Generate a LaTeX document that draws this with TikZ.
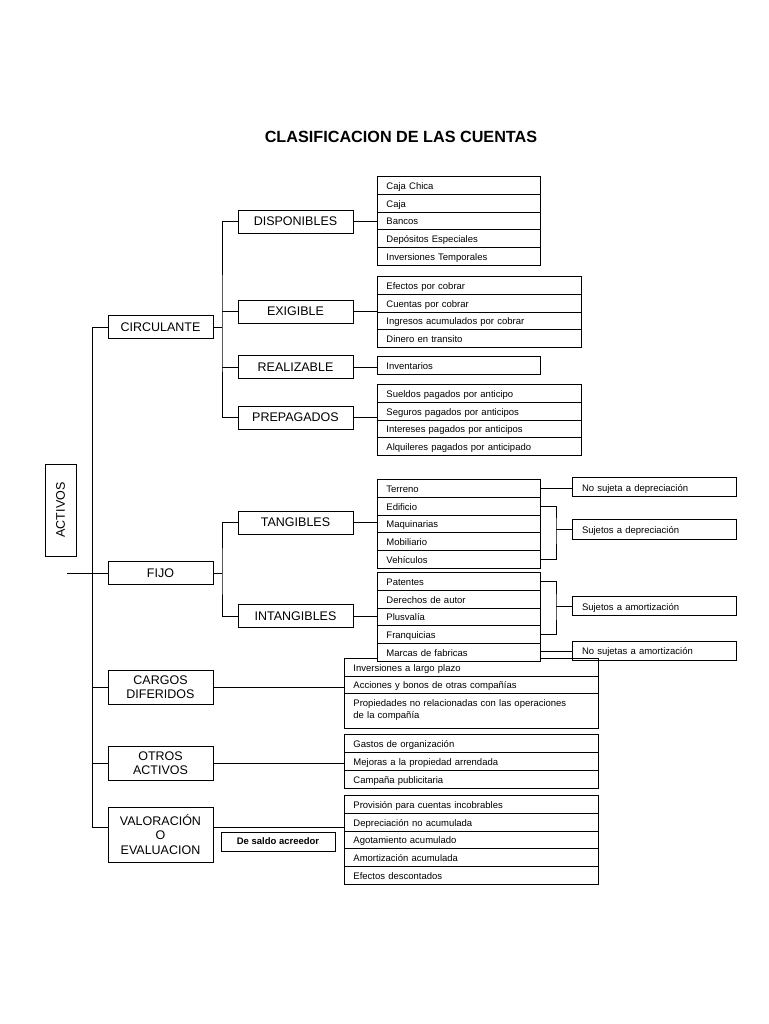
\documentclass[tikz,border=0pt]{standalone}
\usepackage{fontspec}
\setmainfont{Liberation Sans}
\usepackage{tikz}

\tikzset{
    lvlbox/.style={draw, line width=.9pt, inner sep=0pt, align=center,
        font=\fontsize{12.5}{14.5}\selectfont},
    rowbox/.style={draw, fill=white, line width=.9pt, anchor=north west,
        inner xsep=9pt, inner ysep=0pt, text height=8.5pt, text depth=.5pt,
        minimum height=17.8pt, align=left, font=\fontsize{9.5}{11.5}\selectfont},
    notebox/.style={draw, line width=.9pt, inner xsep=10pt, inner ysep=0pt,
        text height=8.5pt, text depth=.5pt, minimum height=19pt,
        text width=144pt, align=left, font=\fontsize{9.5}{11.5}\selectfont},
    link/.style={line width=.8pt}
}

\begin{document}
\begin{tikzpicture}[x=1pt, y=-1pt]
    \path[use as bounding box, fill=white] (0,0) rectangle (768,1024);

    \node (title) at (401,137) {\bfseries\fontsize{16.2}{19}\selectfont CLASIFICACION DE LAS CUENTAS};

    % first level
    \node[lvlbox, rotate=90, minimum width=92pt, minimum height=31pt] (act) at (60.5,510) {ACTIVOS};
    \node[lvlbox, minimum width=105pt, minimum height=23pt] (circ) at (160.5,327) {CIRCULANTE};
    \node[lvlbox, minimum width=105pt, minimum height=23pt] (fijo) at (160.5,573) {FIJO};
    \node[lvlbox, minimum width=105pt, minimum height=34pt] (carg) at (160.5,687) {CARGOS\\DIFERIDOS};
    \node[lvlbox, minimum width=105pt, minimum height=34pt] (otro) at (160.5,763) {OTROS\\ACTIVOS};
    \node[lvlbox, minimum width=105pt, minimum height=55pt] (valo) at (160.5,834.5) {VALORACIÓN\\O\\EVALUACION};
    \node[draw, line width=.9pt, minimum width=114pt, minimum height=19pt, inner sep=0pt,
        font=\bfseries\fontsize{9.5}{11.5}\selectfont] (acre) at (278,841.5) {De saldo acreedor};

    % second level
    \node[lvlbox, minimum width=115pt, minimum height=23pt] (disp) at (295.5,221.5) {DISPONIBLES};
    \node[lvlbox, minimum width=115pt, minimum height=23pt] (exig) at (295.5,311.5) {EXIGIBLE};
    \node[lvlbox, minimum width=115pt, minimum height=23pt] (real) at (295.5,367) {REALIZABLE};
    \node[lvlbox, minimum width=115pt, minimum height=23pt] (prep) at (295.5,417.5) {PREPAGADOS};
    \node[lvlbox, minimum width=115pt, minimum height=23pt] (tang) at (295.5,522.5) {TANGIBLES};
    \node[lvlbox, minimum width=115pt, minimum height=23pt] (inta) at (295.5,616) {INTANGIBLES};

    % accounts
    \foreach \t [count=\i] in {Caja Chica, Caja, Bancos, Depósitos Especiales, Inversiones Temporales}
        \node[rowbox, text width=145pt] (d\i) at (377,{176+17.8*(\i-1)}) {\t};
    \foreach \t [count=\i] in {Efectos por cobrar, Cuentas por cobrar, Ingresos acumulados por cobrar, Dinero en transito}
        \node[rowbox, text width=186pt] (e\i) at (377,{276+17.8*(\i-1)}) {\t};
    \node[rowbox, text width=145pt] (r1) at (377,356) {Inventarios};
    \foreach \t [count=\i] in {Sueldos pagados por anticipo, Seguros pagados por anticipos, Intereses pagados por anticipos, Alquileres pagados por anticipado}
        \node[rowbox, text width=186pt] (p\i) at (377,{384+17.8*(\i-1)}) {\t};
    \foreach \t [count=\i] in {Terreno, Edificio, Maquinarias, Mobiliario, Vehículos}
        \node[rowbox, text width=145pt] (t\i) at (377,{479+17.8*(\i-1)}) {\t};

    \node[rowbox, text width=236pt, minimum height=17.5pt] (c1) at (344,658) {Inversiones a largo plazo};
    \node[rowbox, text width=236pt, minimum height=17.5pt] (c2) at (344,675.5) {Acciones y bonos de otras compañías};
    \node[rowbox, text width=236pt, minimum height=35pt, text height=6pt, text depth=14pt] (c3) at (344,693) {Propiedades no relacionadas con las operaciones\\de la compañía};

    \foreach \t [count=\i] in {Patentes, Derechos de autor, Plusvalía, Franquicias, Marcas de fabricas}
        \node[rowbox, text width=145pt] (i\i) at (377,{572+17.8*(\i-1)}) {\t};
    \foreach \t [count=\i] in {Gastos de organización, Mejoras a la propiedad arrendada, Campaña publicitaria}
        \node[rowbox, text width=236pt] (o\i) at (344,{734+18*(\i-1)}) {\t};
    \foreach \t [count=\i] in {Provisión para cuentas incobrables, Depreciación no acumulada, Agotamiento acumulado, Amortización acumulada, Efectos descontados}
        \node[rowbox, text width=236pt] (v\i) at (344,{795+17.8*(\i-1)}) {\t};

    % notes
    \node[notebox] (nsd) at (654,487) {No sujeta a depreciación};
    \node[notebox, minimum height=20pt] (sdep) at (654,529.5) {Sujetos a depreciación};
    \node[notebox] (samo) at (654,606) {Sujetos a amortización};
    \node[notebox] (nsa) at (654,650.5) {No sujetas a amortización};

    % spines
    \coordinate (sp) at (92,827);
    \coordinate (fin) at (67,573);
    \coordinate (cs) at (222,327);
    \coordinate (fs) at (222,573);
    \coordinate (tb) at (556,529);
    \coordinate (ib) at (556,606);

    \draw[link] (circ.west) -| (sp) -- (sp -| valo.west);
    \draw[link] (fin) -- (fijo.west);
    \draw[link] (carg.west) -- (carg.west -| sp);
    \draw[link] (otro.west) -- (otro.west -| sp);

    \draw[link] (disp.west) -| (cs) |- (prep.west);
    \draw[link] (circ.east) -- (cs);
    \draw[link] (exig.west) -- (exig.west -| cs);
    \draw[link] (real.west) -- (real.west -| cs);
    \draw[link] (tang.west) -| (fs) |- (inta.west);
    \draw[link] (fijo.east) -- (fs);

    \draw[link] (disp.east) -- (disp.east -| d1.west);
    \draw[link] (exig.east) -- (exig.east -| e1.west);
    \draw[link] (real.east) -- (real.east -| r1.west);
    \draw[link] (prep.east) -- (prep.east -| p1.west);
    \draw[link] (tang.east) -- (tang.east -| t1.west);
    \draw[link] (inta.east) -- (inta.east -| i1.west);
    \draw[link] (carg.east) -- (carg.east -| c1.west);
    \draw[link] (otro.east) -- (otro.east -| o1.west);
    \draw[link] (sp -| valo.east) -- (sp -| v1.west);

    \draw[link] (t1.east) -- (t1.east -| nsd.west);
    \draw[link] (t2.east) -| (tb) |- (t5.east);
    \draw[link] (tb) -- (tb -| sdep.west);
    \draw[link] (i1.east) -| (ib) |- (i4.east);
    \draw[link] (ib) -- (ib -| samo.west);
    \draw[link, double, double distance=2pt] (i5.east) -- (i5.east -| nsa.west);
\end{tikzpicture}
\end{document}
